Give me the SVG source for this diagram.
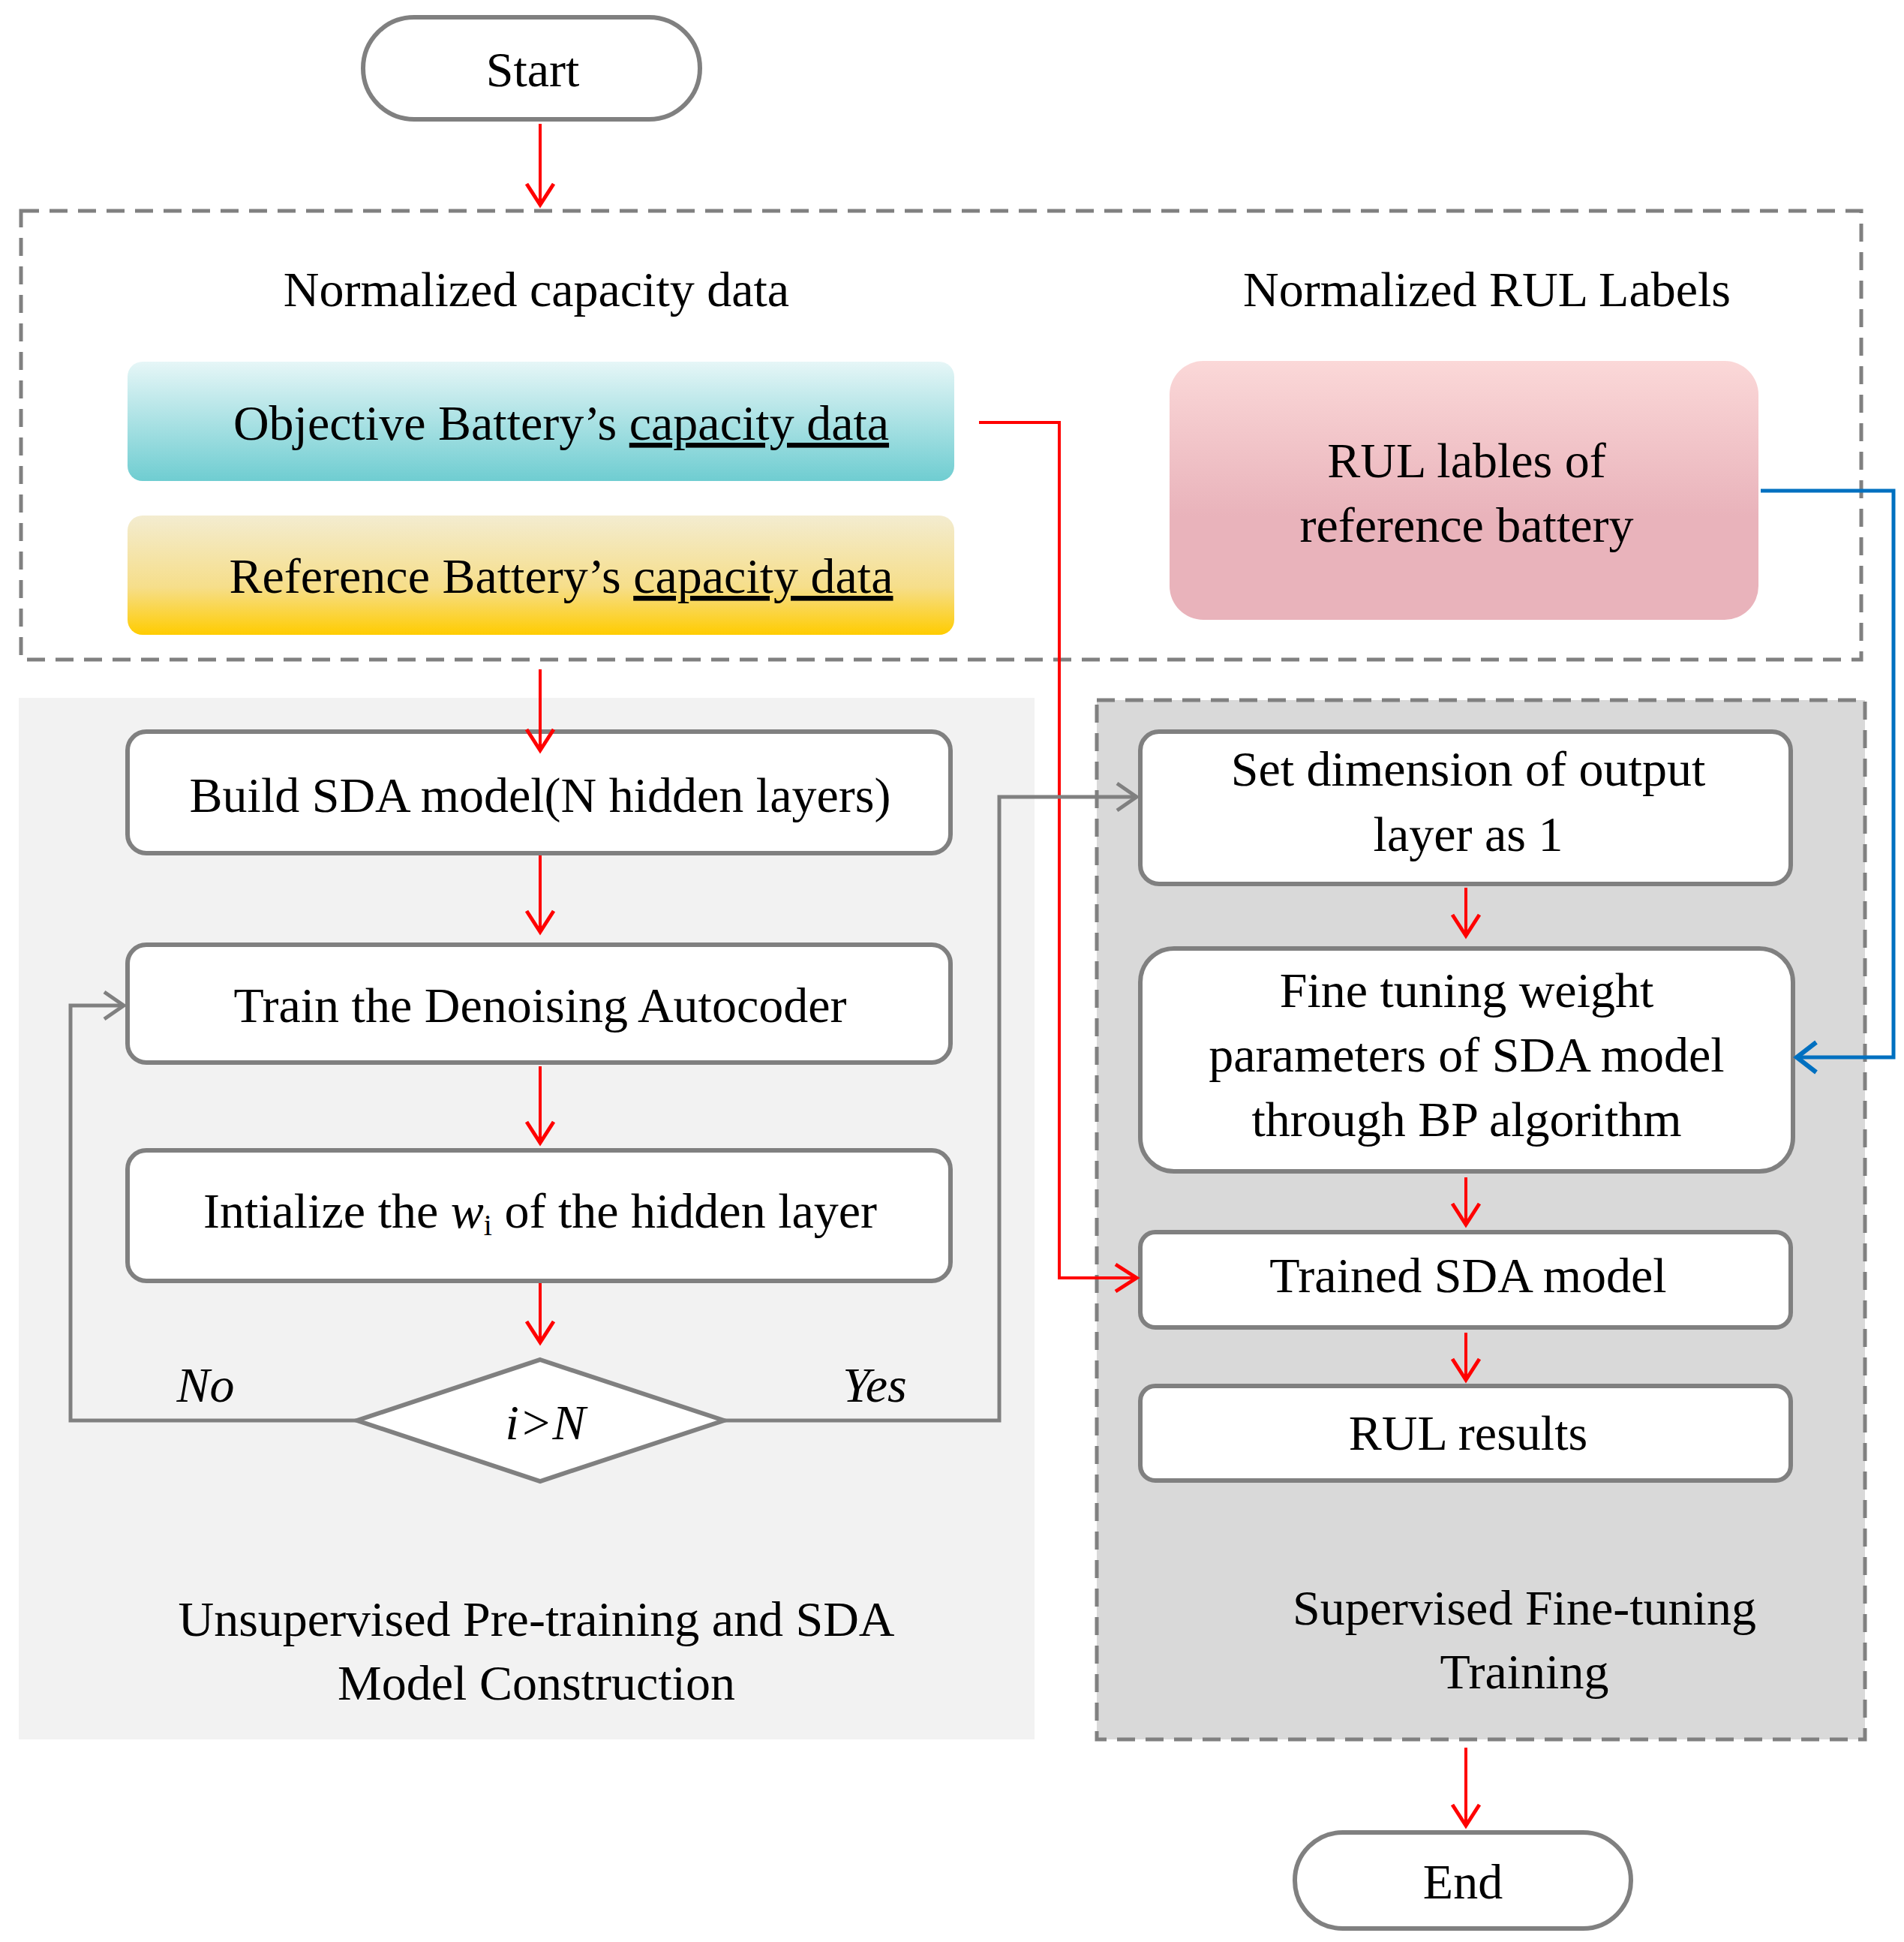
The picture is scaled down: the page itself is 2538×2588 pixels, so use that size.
<svg xmlns="http://www.w3.org/2000/svg" width="2538" height="2588" viewBox="0 0 2538 2588">
<style>
text{font-family:"Liberation Serif","Times New Roman",serif;font-size:66px;fill:#000;text-anchor:middle}
.box{fill:#fff;stroke:#808080;stroke-width:6}
.red{fill:none;stroke:#ff0000;stroke-width:4}
.gray{fill:none;stroke:#808080;stroke-width:5}
.blue{fill:none;stroke:#0070c0;stroke-width:5}
.it{font-style:italic}
</style>
<defs>
<marker id="ar" viewBox="0 0 20 20" refX="19" refY="10" markerWidth="20" markerHeight="20" markerUnits="userSpaceOnUse" orient="auto"><path d="M0,-10 L19,10 L0,30" fill="none" stroke="#ff0000" stroke-width="4"/></marker>
<marker id="arr" viewBox="-30 -30 60 60" refX="0" refY="0" markerWidth="60" markerHeight="60" markerUnits="userSpaceOnUse" orient="auto"><path d="M-28,-18 L0,0 L-28,18" fill="none" stroke="#ff0000" stroke-width="5"/></marker>
<marker id="arg" viewBox="-30 -30 60 60" refX="0" refY="0" markerWidth="60" markerHeight="60" markerUnits="userSpaceOnUse" orient="auto"><path d="M-26,-18 L0,0 L-26,18" fill="none" stroke="#808080" stroke-width="5"/></marker>
<marker id="arb" viewBox="-30 -30 60 60" refX="0" refY="0" markerWidth="60" markerHeight="60" markerUnits="userSpaceOnUse" orient="auto"><path d="M-26,-20 L0,0 L-26,20" fill="none" stroke="#0070c0" stroke-width="6"/></marker>
<linearGradient id="gc" x1="0" y1="0" x2="0" y2="1"><stop offset="0" stop-color="#e6f6f7"/><stop offset="1" stop-color="#6fcdd1"/></linearGradient>
<linearGradient id="gy" x1="0" y1="0" x2="0" y2="1"><stop offset="0" stop-color="#f3ecd0"/><stop offset="0.6" stop-color="#f6de8a"/><stop offset="1" stop-color="#ffcc00"/></linearGradient>
<linearGradient id="gp" x1="0" y1="0" x2="0" y2="1"><stop offset="0" stop-color="#fbd8d8"/><stop offset="0.6" stop-color="#e9b3bb"/><stop offset="1" stop-color="#e9b3bb"/></linearGradient>
</defs>
<rect width="2538" height="2588" fill="#fff"/>
<g id="panels">
<rect x="28" y="281" width="2453" height="598" fill="none" stroke="#808080" stroke-width="5" stroke-dasharray="24,14"/>
<rect x="25" y="930" width="1354" height="1388" fill="#f2f2f2"/>
<rect x="1462" y="933" width="1024" height="1385" fill="#d9d9d9" stroke="#808080" stroke-width="5" stroke-dasharray="24,14"/>
<text x="715" y="408">Normalized capacity data</text>
<text x="1982" y="408">Normalized RUL Labels</text>
<text x="715" y="2180">Unsupervised Pre-training and SDA</text>
<text x="715" y="2265">Model Construction</text>
<text x="2032" y="2165">Supervised Fine-tuning</text>
<text x="2032" y="2250">Training</text>
</g>
<g id="start"><rect class="box" x="484" y="23" width="449" height="136" rx="68"/><text x="710" y="115">Start</text></g>
<g id="obj"><rect x="170" y="482" width="1102" height="159" rx="20" fill="url(#gc)"/><text x="748" y="586">Objective Battery’s <tspan text-decoration="underline">capacity data</tspan></text></g>
<g id="ref"><rect x="170" y="687" width="1102" height="159" rx="20" fill="url(#gy)"/><text x="748" y="790">Reference Battery’s <tspan text-decoration="underline">capacity data</tspan></text></g>
<g id="rul"><rect x="1559" y="481" width="785" height="345" rx="45" fill="url(#gp)"/><text x="1955" y="636">RUL lables of</text><text x="1955" y="722">reference battery</text></g>
<g id="build"><rect class="box" x="170" y="975" width="1097" height="162" rx="25"/><text x="720" y="1082">Build SDA model(N hidden layers)</text></g>
<g id="train"><rect class="box" x="170" y="1259" width="1097" height="157" rx="25"/><text x="720" y="1362">Train the Denoising Autocoder</text></g>
<g id="init"><rect class="box" x="170" y="1533" width="1097" height="174" rx="25"/><text x="720" y="1636">Intialize the <tspan class="it">w</tspan><tspan font-size="40" dy="10">i</tspan><tspan dy="-10"> of the hidden layer</tspan></text></g>
<g id="dec"><polygon class="box" points="720,1812 965,1893 720,1974 476,1893"/><text class="it" x="727" y="1918">i&gt;N</text></g>
<g id="setdim"><rect class="box" x="1520" y="975" width="867" height="203" rx="25"/><text x="1957" y="1047">Set dimension of output</text><text x="1957" y="1134">layer as 1</text></g>
<g id="fine"><rect class="box" x="1520" y="1264" width="870" height="297" rx="45"/><text x="1955" y="1342">Fine tuning weight</text><text x="1955" y="1428">parameters of SDA model</text><text x="1955" y="1514">through BP algorithm</text></g>
<g id="trained"><rect class="box" x="1520" y="1642" width="867" height="127" rx="20"/><text x="1957" y="1722">Trained SDA model</text></g>
<g id="results"><rect class="box" x="1520" y="1847" width="867" height="126" rx="20"/><text x="1957" y="1932">RUL results</text></g>
<g id="end"><rect class="box" x="1726" y="2442" width="448" height="128" rx="64"/><text x="1950" y="2530">End</text></g>
<g id="connectors">
<line class="red" x1="720" y1="165" x2="720" y2="273" marker-end="url(#arr)"/>
<line class="red" x1="720" y1="892" x2="720" y2="1000" marker-end="url(#arr)"/>
<line class="red" x1="720" y1="1140" x2="720" y2="1242" marker-end="url(#arr)"/>
<line class="red" x1="720" y1="1421" x2="720" y2="1523" marker-end="url(#arr)"/>
<line class="red" x1="720" y1="1710" x2="720" y2="1789" marker-end="url(#arr)"/>
<line class="red" x1="1954" y1="1183" x2="1954" y2="1247" marker-end="url(#arr)"/>
<line class="red" x1="1954" y1="1569" x2="1954" y2="1632" marker-end="url(#arr)"/>
<line class="red" x1="1954" y1="1776" x2="1954" y2="1839" marker-end="url(#arr)"/>
<line class="red" x1="1954" y1="2329" x2="1954" y2="2433" marker-end="url(#arr)"/>
<polyline class="red" points="1305,563 1412,563 1412,1703 1515,1703" marker-end="url(#arr)"/>
<polyline class="gray" points="476,1893 94,1893 94,1340 165,1340" marker-end="url(#arg)"/>
<polyline class="gray" points="965,1893 1332,1893 1332,1062 1515,1062" marker-end="url(#arg)"/>
<polyline class="blue" points="2347,654 2524,654 2524,1409 2395,1409" marker-end="url(#arb)"/>
<text class="it" x="274" y="1868">No</text>
<text class="it" x="1166" y="1868">Yes</text>
</g>
</svg>
